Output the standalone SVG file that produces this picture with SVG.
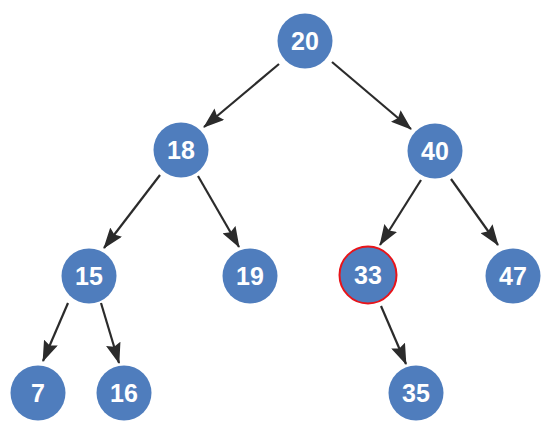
<svg xmlns="http://www.w3.org/2000/svg" width="552" height="436" viewBox="0 0 552 436">
<style>
.n circle{fill:#4f7dbd;}
.n text{fill:#fff;font-family:"Liberation Sans",Arial,sans-serif;font-weight:bold;font-size:25px;text-anchor:middle;dominant-baseline:central;}
.e line{stroke:#2b2b2b;stroke-width:2.2;marker-end:url(#ah);}
.sel circle{stroke:#e8141a;stroke-width:2;}
</style>
<defs>
<marker id="ah" markerUnits="userSpaceOnUse" markerWidth="21" markerHeight="15" refX="20" refY="7.5" orient="auto">
<path d="M0,0 L21,7.5 L0,15 L3,7.5 Z" fill="#2b2b2b"/>
</marker>
</defs>
<rect width="552" height="436" fill="#fff"/>
<g id="edges" class="e">
<line x1="279" y1="64" x2="204" y2="127"/>
<line x1="332" y1="62" x2="411" y2="129"/>
<line x1="160" y1="175" x2="104" y2="248"/>
<line x1="198" y1="176" x2="239" y2="247"/>
<line x1="421" y1="180" x2="380" y2="245"/>
<line x1="451" y1="179" x2="498" y2="245"/>
<line x1="68" y1="303" x2="43" y2="361"/>
<line x1="101" y1="303" x2="119" y2="363"/>
<line x1="381" y1="306" x2="406" y2="364"/>
</g>
<g id="n20" class="n"><circle cx="305" cy="41" r="27.5"/><text x="305" y="41">20</text></g>
<g id="n18" class="n"><circle cx="181" cy="150" r="27.5"/><text x="181" y="150">18</text></g>
<g id="n40" class="n"><circle cx="435" cy="151" r="27.5"/><text x="435" y="151">40</text></g>
<g id="n15" class="n"><circle cx="89" cy="276" r="27.5"/><text x="89" y="276">15</text></g>
<g id="n19" class="n"><circle cx="250" cy="276" r="27.5"/><text x="250" y="276">19</text></g>
<g id="n33" class="n sel"><circle cx="368" cy="275" r="28.5"/><text x="368" y="275">33</text></g>
<g id="n47" class="n"><circle cx="513" cy="276" r="27.5"/><text x="513" y="276">47</text></g>
<g id="n7" class="n"><circle cx="38" cy="393" r="27.5"/><text x="38" y="393">7</text></g>
<g id="n16" class="n"><circle cx="124" cy="393" r="27.5"/><text x="124" y="393">16</text></g>
<g id="n35" class="n"><circle cx="416" cy="393" r="27.5"/><text x="416" y="393">35</text></g>
</svg>
